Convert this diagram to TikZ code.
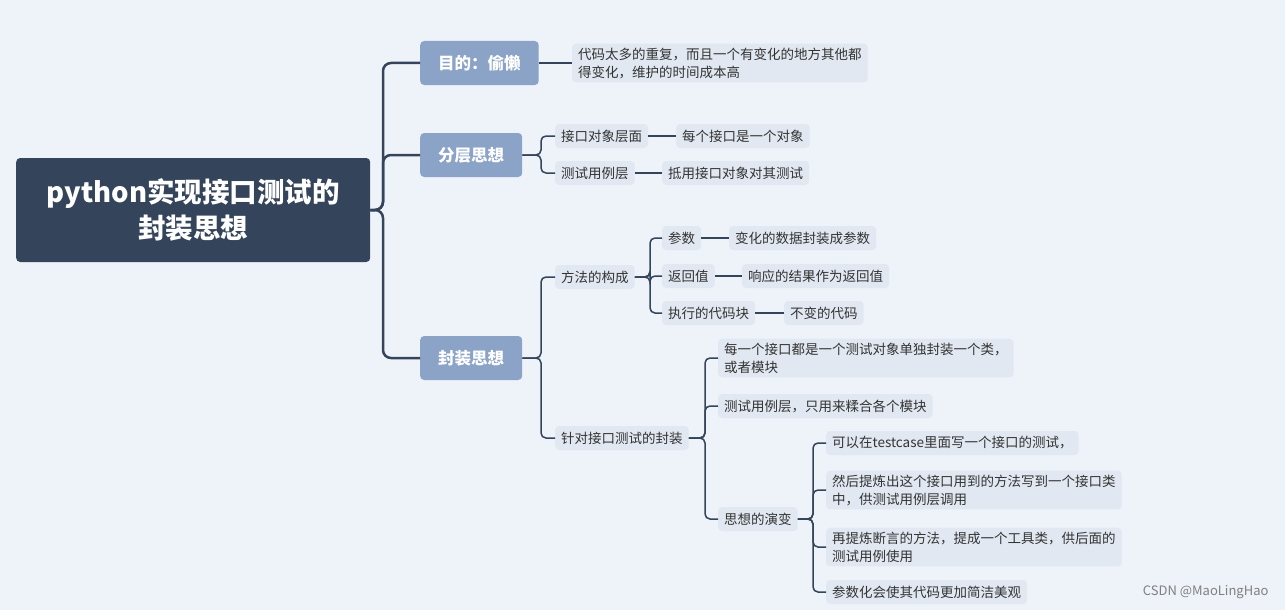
\documentclass[tikz,border=0pt]{standalone}
\usepackage{fontspec}
\setmainfont{Noto Sans CJK SC}
\definecolor{bg}{HTML}{EEF3FA}
\definecolor{dark}{HTML}{34445A}
\definecolor{mid}{HTML}{8BA3C7}
\definecolor{leafc}{HTML}{E1E8F1}
\definecolor{txt}{HTML}{333333}
\begin{document}
\begin{tikzpicture}[x=1pt,y=-1pt,
  root/.style={fill=dark,text=white,rounded corners=4pt,font=\fontsize{27.5}{36}\selectfont\bfseries,align=center,minimum width=354pt,minimum height=104pt,anchor=west},
  lone/.style={fill=mid,text=white,rounded corners=4pt,font=\fontsize{16.5}{20}\selectfont\bfseries,minimum height=44pt,inner xsep=18pt,anchor=west},
  leaf/.style={fill=leafc,text=txt,rounded corners=4pt,font=\fontsize{13.5}{18}\selectfont,align=left,minimum height=24pt,inner xsep=6pt,inner ysep=4pt,anchor=west},
  conn/.style={draw=dark,line width=1.5pt,rounded corners=5pt},
  trunk/.style={draw=dark,line width=2.5pt,rounded corners=8pt}]
\useasboundingbox[fill=bg] (0,0) rectangle (1285,610);
\node[root] (r) at (16,210) {python实现接口测试的\\封装思想};
\node[lone] (a) at (420,63) {目的：偷懒};
\node[lone] (b) at (420,155) {分层思想};
\node[lone] (c) at (420,358) {封装思想};
\foreach \n in {a,b,c} \draw[trunk] (r.east) -- (383,210) |- (\n.west);
\node[leaf] (a1) at (572,63) {代码太多的重复，而且一个有变化的地方其他都\\得变化，维护的时间成本高};
\draw[conn] (a.east) -- (a1.west);
\node[leaf] (b1) at (555,136) {接口对象层面};
\node[leaf] (b2) at (555,173) {测试用例层};
\foreach \n in {b1,b2} \draw[conn] (b.east) -- (541,155) |- (\n.west);
\node[leaf] (b11) at (676,136) {每个接口是一个对象};
\node[leaf] (b21) at (662,173) {抵用接口对象对其测试};
\draw[conn] (b1.east) -- (b11.west);
\draw[conn] (b2.east) -- (b21.west);
\node[leaf] (c1) at (555,277) {方法的构成};
\node[leaf] (c2) at (555,438) {针对接口测试的封装};
\foreach \n in {c1,c2} \draw[conn] (c.east) -- (541,358) |- (\n.west);
\node[leaf] (c11) at (662,238) {参数};
\node[leaf] (c12) at (662,276) {返回值};
\node[leaf] (c13) at (662,313) {执行的代码块};
\foreach \n in {c11,c12,c13} \draw[conn] (c1.east) -- (650,277) |- (\n.west);
\node[leaf] (c111) at (729,238) {变化的数据封装成参数};
\node[leaf] (c121) at (742,276) {响应的结果作为返回值};
\node[leaf] (c131) at (784,313) {不变的代码};
\draw[conn] (c11.east) -- (c111.west);
\draw[conn] (c12.east) -- (c121.west);
\draw[conn] (c13.east) -- (c131.west);
\node[leaf] (c21) at (718,358) {每一个接口都是一个测试对象单独封装一个类，\\或者模块};
\node[leaf] (c22) at (718,406) {测试用例层，只用来糅合各个模块};
\node[leaf] (c23) at (718,519) {思想的演变};
\foreach \n in {c21,c22,c23} \draw[conn] (c2.east) -- (705,438) |- (\n.west);
\node[leaf] (d1) at (826,443) {可以在testcase里面写一个接口的测试，};
\node[leaf] (d2) at (826,490) {然后提炼出这个接口用到的方法写到一个接口类\\中，供测试用例层调用};
\node[leaf] (d3) at (826,547) {再提炼断言的方法，提成一个工具类，供后面的\\测试用例使用};
\node[leaf] (d4) at (826,592) {参数化会使其代码更加简洁美观};
\foreach \n in {d1,d2,d3,d4} \draw[conn] (c23.east) -- (813,519) |- (\n.west);
\node[text=gray,font=\fontsize{13}{16}\selectfont,anchor=east] (w) at (1272,592) {CSDN @MaoLingHao};
\end{tikzpicture}
\end{document}
